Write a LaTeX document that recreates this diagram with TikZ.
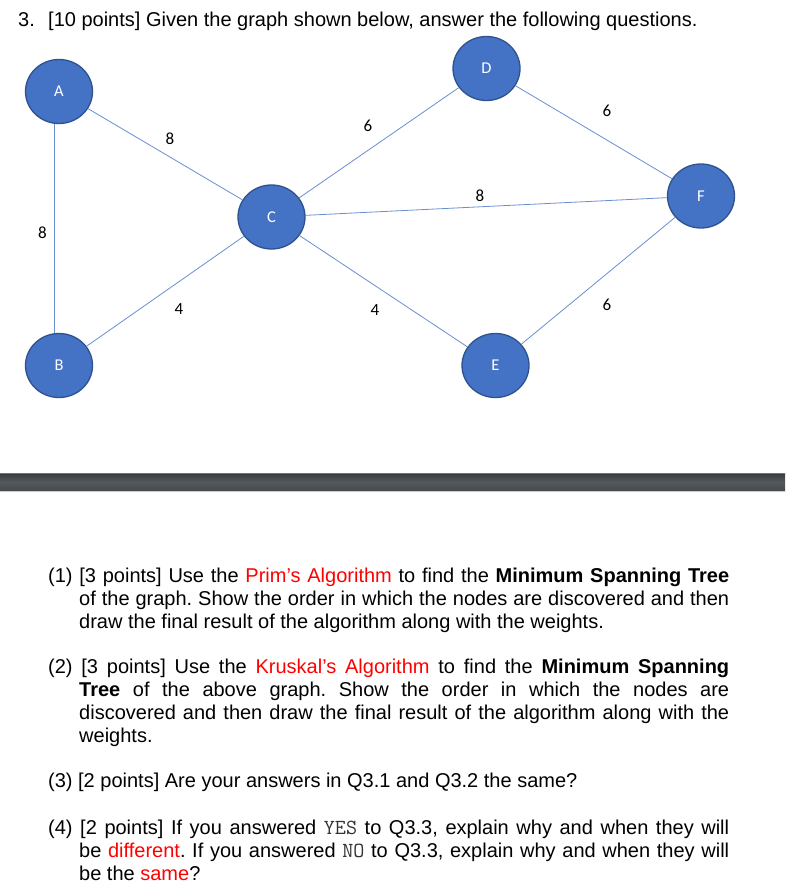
\documentclass[tikz,border=0pt]{standalone}
\usepackage{fontspec}
\setmainfont{Liberation Sans}
\newfontfamily\calfont{Carlito}
\usetikzlibrary{shapes.geometric}
\definecolor{nodeblue}{HTML}{4472C4}
\definecolor{nodeedge}{HTML}{2F528F}
\definecolor{edgeblue}{HTML}{6A8FD0}
\definecolor{qredc}{HTML}{FF0000}
\definecolor{monogray}{HTML}{333333}
\definecolor{bartop}{HTML}{383B3E}
\definecolor{barmid}{HTML}{55595C}
\definecolor{barbot}{HTML}{46494C}
\newcommand\qred[1]{\textcolor{qredc}{#1}}
\newcommand\qmono[1]{{\ttfamily\fontsize{21.5}{23.3}\selectfont\color{monogray}#1}}
\begin{document}
\begin{tikzpicture}[x=1pt,y=-1pt,
  vertex/.style={ellipse, draw=nodeedge, line width=1.3pt, fill=nodeblue,
    minimum width=67pt, minimum height=64pt, inner sep=0pt, text=white,
    font=\calfont\fontsize{16.5}{16.5}\selectfont},
  edge/.style={draw=edgeblue, line width=0.8pt},
  weight/.style={inner sep=0pt, font=\calfont\fontsize{17}{17}\selectfont},
  heading/.style={anchor=base west, inner sep=0pt, font=\fontsize{20}{24}\selectfont},
  para/.style={anchor=base west, inner sep=0pt, text width=681pt, align=justify,
    font=\fontsize{20}{23.3}\selectfont\frenchspacing}]
\useasboundingbox[fill=white] (0,0) rectangle (785,893);

% title
\node[heading] (num) at (18,27) {3.};
\node[heading] (title) at (48,27) {[10 points] Given the graph shown below, answer the following questions.};

% vertices
\node[vertex] (A) at (59,91.5) {A};
\node[vertex] (B) at (59,365.5) {B};
\node[vertex] (C) at (271.5,217) {C};
\node[vertex] (D) at (486.5,68.5) {D};
\node[vertex] (E) at (495.5,365.5) {E};
\node[vertex] (F) at (701,196) {F};

% edges
\draw[edge] ([xshift=-5pt]A.south) -- ([xshift=-5pt]B.north);
\draw[edge] (A) -- (C);
\draw[edge] (B) -- (C);
\draw[edge] (C) -- (D);
\draw[edge] (C) -- (F);
\draw[edge] (C) -- (E);
\draw[edge] (D) -- (F);
\draw[edge] (E) -- (F);

% weights
\node[weight] (wAC) at (170,139) {8};
\node[weight] (wAB) at (42.5,232.5) {8};
\node[weight] (wCD) at (368,126) {6};
\node[weight] (wBC) at (179,309.5) {4};
\node[weight] (wCE) at (375,310.5) {4};
\node[weight] (wDF) at (607,111) {6};
\node[weight] (wCF) at (480,196) {8};
\node[weight] (wEF) at (607,305) {6};

% separator bar
\shade[top color=bartop, bottom color=barbot, middle color=barmid] (0,473) rectangle (785,491);
\draw[color=black!55, line width=0.8pt] (0,473) -- (785,473);
\draw[color=black!20, line width=1pt] (0,491.5) -- (785,491.5);

% questions
\node[para] (q1) at (48,582) {\noindent\hangindent=31pt\hangafter=1
(1) [3 points] Use the \qred{Prim’s Algorithm} to find the \textbf{Minimum Spanning Tree}\linebreak
of the graph. Show the order in which the nodes are discovered and then\linebreak
draw the final result of the algorithm along with the weights.\par};

\node[para] (q2) at (48,673) {\noindent\hangindent=31pt\hangafter=1
(2) [3 points] Use the \qred{Kruskal’s Algorithm} to find the \textbf{Minimum Spanning}\linebreak
\textbf{Tree} of the above graph. Show the order in which the nodes are\linebreak
discovered and then draw the final result of the algorithm along with the\linebreak
weights.\par};

\node[para] (q3) at (48,787) {\noindent\hangindent=31pt\hangafter=1
(3) [2 points] Are your answers in Q3.1 and Q3.2 the same?\par};

\node[para] (q4) at (48,834) {\noindent\hangindent=31pt\hangafter=1
(4) [2 points] If you answered \qmono{YES} to Q3.3, explain why and when they will\linebreak
be \qred{different}. If you answered \qmono{NO} to Q3.3, explain why and when they will\linebreak
be the \qred{same}?\par};
\end{tikzpicture}
\end{document}
